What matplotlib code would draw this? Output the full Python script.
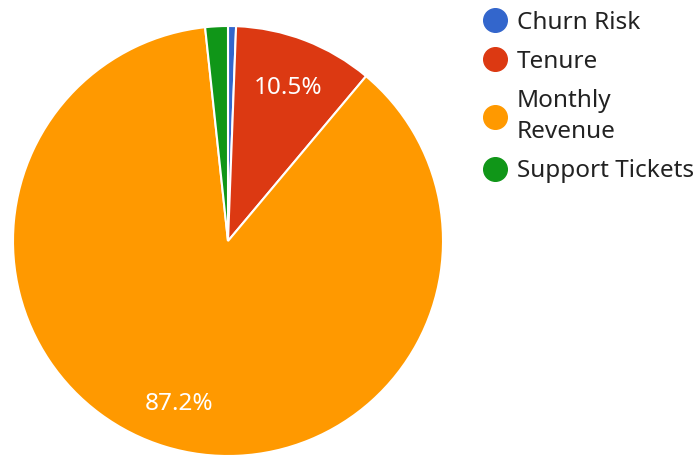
import matplotlib
matplotlib.use("Agg")
import matplotlib.pyplot as plt
from matplotlib.lines import Line2D

plt.rcParams['font.family'] = ['Noto Sans', 'DejaVu Sans']

# slice shares (percent), clockwise from 12 o'clock
labels = ["Churn Risk", "Tenure", "Monthly\nRevenue", "Support Tickets"]
shares = [0.6, 10.5, 87.2, 1.7]
colors = ["#3366cc", "#dc3912", "#ff9900", "#109618"]

W, H = 698, 455
fig = plt.figure(figsize=(W / 100, H / 100), dpi=100)
ax = fig.add_axes([0, 0, 1, 1])


def fmt(p):
    return f"{p:.1f}%" if p > 5 else ""


wedges, _, autotexts = ax.pie(
    shares, colors=colors, startangle=90, counterclock=False,
    center=(228, H - 241), radius=215, frame=True,
    autopct=fmt, pctdistance=0.78,
    wedgeprops=dict(edgecolor="white", linewidth=1.5),
    textprops=dict(color="white", fontsize=17.5))
for t in autotexts:
    t.set_va("center_baseline")

ax.set_xlim(0, W)
ax.set_ylim(0, H)
ax.set_aspect("equal")
ax.axis("off")

handles = [Line2D([], [], marker="o", linestyle="none", markersize=17,
                  markerfacecolor=c, markeredgecolor=c) for c in colors]
leg = fig.legend(handles, labels, loc="upper left",
                 bbox_to_anchor=(474 / W, 1 - 1 / H), frameon=False,
                 fontsize=17.5, handlelength=0.9, handletextpad=0.45,
                 labelspacing=0.62, borderaxespad=0)
for t in leg.get_texts():
    t.set_color("#222222")
    t.set_linespacing(1.42)

fig.savefig("out.png", dpi=100)
